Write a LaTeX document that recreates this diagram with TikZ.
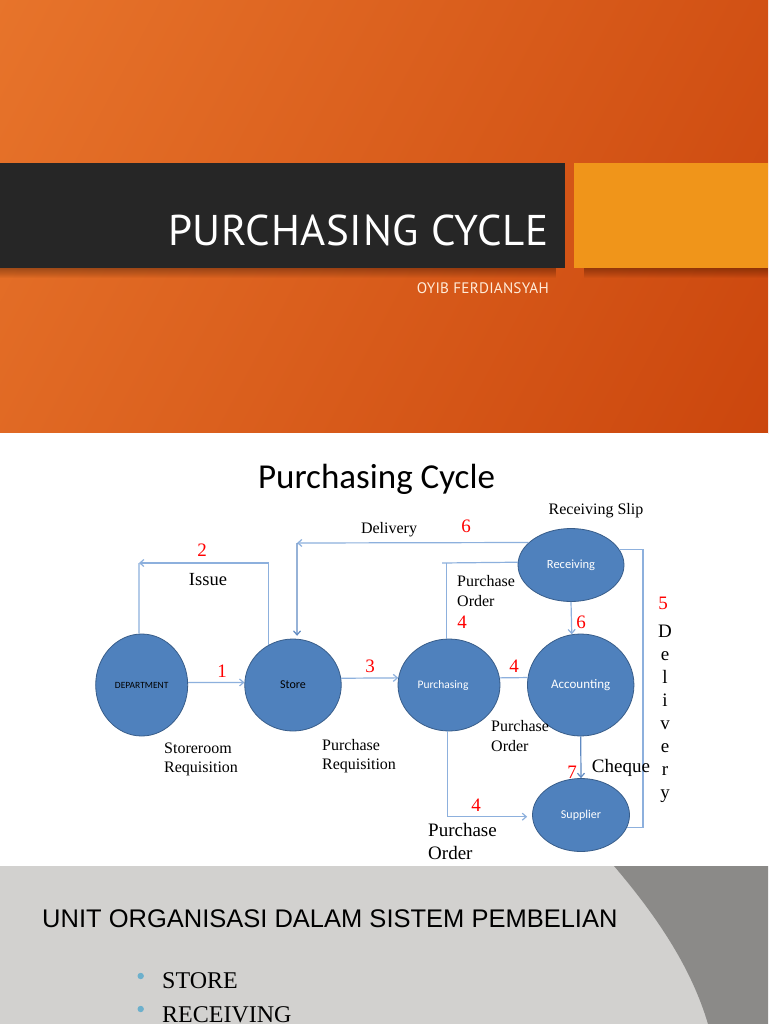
\documentclass[tikz,border=0pt]{standalone}
\usepackage{fontspec}
\setmainfont{Liberation Serif}
\newfontfamily\bodysans{Carlito}
\newfontfamily\titlesans[LetterSpace=1.5]{PT Sans}
\newfontfamily\arialface{Liberation Sans}
\usetikzlibrary{shapes.geometric,arrows.meta}
\definecolor{circlefill}{HTML}{4F81BD}
\definecolor{circleline}{HTML}{385D8A}
\definecolor{linkblue}{HTML}{8DB0DD}
\definecolor{linkdark}{HTML}{5F8AC2}
\definecolor{bandblack}{HTML}{262626}
\definecolor{bandorange}{HTML}{F0951A}
\definecolor{bgbright}{HTML}{EC7C30}
\definecolor{bgdark}{HTML}{C63E08}
\definecolor{panelgrey}{HTML}{D2D1CF}
\definecolor{paneldark}{HTML}{8B8A88}
\definecolor{bulletblue}{HTML}{6DB0CC}
\tikzset{
	unit/.style={draw=circleline, line width=0.8pt, fill=circlefill, ellipse, inner sep=0pt},
	link/.style={draw=linkblue, line width=1.2pt},
	linkstrong/.style={draw=linkdark, line width=1.2pt},
	caption/.style={font=\fontsize{16}{19.5}\selectfont, align=left, inner sep=0pt},
	bigcaption/.style={font=\fontsize{19}{23}\selectfont, align=left, inner sep=0pt},
	stepnum/.style={font=\fontsize{19}{20}\selectfont, text=red, inner sep=0pt},
}
\begin{document}
\begin{tikzpicture}[x=1pt, y=-1pt, >={Straight Barb[length=4pt,width=7pt]}]
	\useasboundingbox (0,0) rectangle (768,1024);

	% cover slide
	\begin{scope}
		\clip (0,0) rectangle (768,433);
		\shade [left color=bgbright, right color=bgdark, shading angle=62] (-216,-384) rectangle (984,816);
	\end{scope}
	\foreach \off in {1,...,10} {
		\fill [black, opacity=0.03] (0,268) rectangle (556,268+\off);
		\fill [black, opacity=0.03] (584,268) rectangle (768,268+\off);
	}
	\fill [bandblack] (0,163) rectangle (565,268);
	\fill [bandorange] (574,163) rectangle (768,268);
	\node (maintitle) [anchor=east, text=white, inner sep=0pt, font=\titlesans\fontsize{43}{46}\selectfont] at (549,230.5) {PURCHASING CYCLE};
	\node (subtitle) [anchor=east, text=white!85!orange, inner sep=0pt, font=\titlesans\fontsize{15.2}{17}\selectfont] at (549,288) {OYIB FERDIANSYAH};

	% diagram slide
	\fill [white] (0,433) rectangle (768,866);
	\node (slidetitle) [inner sep=0pt, font=\bodysans\fontsize{35}{38}\selectfont] at (376.5,479) {Purchasing Cycle};

	\node (department) [unit, minimum width=92pt, minimum height=102pt, font=\bodysans\fontsize{9.5}{11}\selectfont] at (141.7,685) {DEPARTMENT};
	\node (store) [unit, minimum width=96.5pt, minimum height=92pt, font=\bodysans\fontsize{12}{14}\selectfont] at (293,685) {Store};
	\node (purchasing) [unit, minimum width=102pt, minimum height=92pt, text=white, font=\bodysans\fontsize{11.5}{14}\selectfont] at (449,685) {Purchasing\kern12pt};
	\node (accounting) [unit, minimum width=106.5pt, minimum height=102pt, text=white, font=\bodysans\fontsize{13}{15}\selectfont] at (580.7,685) {Accounting};
	\node (receiving) [unit, minimum width=106pt, minimum height=73pt, text=white, font=\bodysans\fontsize{12.5}{14}\selectfont] at (571,565) {Receiving};
	\node (supplier) [unit, minimum width=97pt, minimum height=73pt, text=white, font=\bodysans\fontsize{12}{14}\selectfont] at (581,815) {Supplier};

	\coordinate (issuebend) at (139,563);
	\coordinate (deliverybend) at (297,543);
	\coordinate (orderbend) at (442,563);
	\coordinate (deliveryright) at (643,685);

	\draw [link, ->] (store.121) |- (issuebend);
	\draw [link] (department.93) -- (issuebend);
	\draw [link, ->] (department.3) -- (store.177);
	\draw [link, ->] (store.8) -- (purchasing.172);
	\draw [link] (purchasing.8) -- (accounting.172);
	\draw [link] (receiving.177) -- (orderbend);
	\draw [link] (purchasing.93) -- (purchasing.93 |- orderbend);
	\draw [link, ->] (receiving.152) -- (deliverybend);
	\draw [linkstrong, ->, shorten >=3pt] (deliverybend) -- (store.85);
	\draw [link, ->] (receiving.south) -- (accounting.100);
	\draw [linkstrong, ->] (accounting.south) -- (supplier.north);
	\draw [link, ->, shorten >=5pt] (purchasing.268) |- (supplier.182);
	\draw [link] (receiving.18) -| (deliveryright) |- (supplier.-15);

	\node (issuetext) [caption, font=\fontsize{18.5}{20}\selectfont] at (208,580) {Issue};
	\node (deliverytext) [caption] at (389,529.5) {Delivery};
	\node (sliptext) [caption] at (596,510.5) {Receiving Slip};
	\node (storeroomtext) [caption, anchor=west] at (164,759.5) {Storeroom\\Requisition};
	\node (requisitiontext) [caption, anchor=west] at (322,756) {Purchase\\Requisition};
	\node (ordertop) [caption, anchor=west] at (457,591) {Purchase\\Order};
	\node (ordermid) [caption, anchor=west] at (491,736) {Purchase\\Order};
	\node (orderlow) [bigcaption, anchor=west] at (428,841) {Purchase\\Order};
	\node (chequetext) [bigcaption] at (621,768) {Cheque};
	\node (deliveryside) [bigcaption, align=center] at (665,713.5) {D\\e\\l\\i\\v\\e\\r\\y};

	\node (numone) [stepnum] at (222,671) {1};
	\node (numtwo) [stepnum] at (202,550) {2};
	\node (numthree) [stepnum] at (370,666) {3};
	\node (numfourtop) [stepnum] at (462,622) {4};
	\node (numfourmid) [stepnum] at (514,666) {4};
	\node (numfourlow) [stepnum] at (476,805) {4};
	\node (numfive) [stepnum] at (663,603) {5};
	\node (numsixtop) [stepnum] at (466,526) {6};
	\node (numsixmid) [stepnum] at (581,622) {6};
	\node (numseven) [stepnum] at (572,772) {7};

	% third slide
	\fill [panelgrey] (0,866) rectangle (768,1024);
	\fill [paneldark] (614,866) .. controls (660,920) and (692,970) .. (708,1024) -- (768,1024) -- (768,866) -- cycle;
	\node (unittitle) [anchor=west, inner sep=0pt, font=\arialface\fontsize{25.5}{28}\selectfont] at (42,919) {UNIT ORGANISASI DALAM SISTEM PEMBELIAN};
	\fill [bulletblue] (140.7,976) circle (3.2);
	\fill [bulletblue] (140.7,1009) circle (3.2);
	\node (itemstore) [anchor=base west, inner sep=0pt, font=\fontsize{24}{26}\selectfont] at (162,988) {STORE};
	\node (itemreceiving) [anchor=base west, inner sep=0pt, font=\fontsize{24}{26}\selectfont] at (162,1022) {RECEIVING};
\end{tikzpicture}
\end{document}
